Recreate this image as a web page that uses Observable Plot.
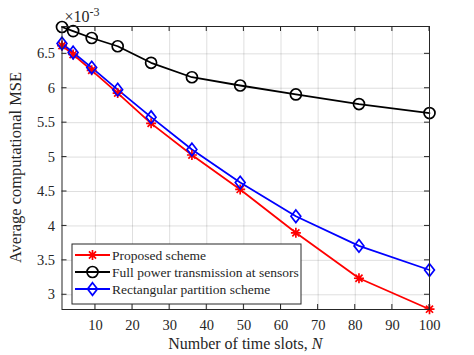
<!DOCTYPE html>
<html><head><meta charset="utf-8">
<script src="https://cdn.jsdelivr.net/npm/d3@7"></script>
<script src="https://cdn.jsdelivr.net/npm/@observablehq/plot@0.6"></script>
<style>body{margin:0;background:#fff} #chart{width:474px;height:355px}</style>
</head><body><div id="chart"></div>
<script>
// ---- data ----
const slots = [1, 4, 9, 16, 25, 36, 49, 64, 81, 100];
const proposed = [6.62, 6.49, 6.26, 5.93, 5.49, 5.03, 4.53, 3.90, 3.24, 2.79];
const fullPower = [6.89, 6.83, 6.73, 6.61, 6.37, 6.16, 6.04, 5.91, 5.77, 5.64];
const rectangular = [6.65, 6.52, 6.30, 5.98, 5.58, 5.11, 4.63, 4.14, 3.71, 3.36];
const seriesNames = ["Proposed scheme", "Full power transmission at sensors", "Rectangular partition scheme"];
const seriesColors = ["#ff0000", "#000000", "#0000ff"];
const xTicks = [10, 20, 30, 40, 50, 60, 70, 80, 90, 100];
const yTicks = [3, 3.5, 4, 4.5, 5, 5.5, 6, 6.5];
const xLabel = "Number of time slots, ";
const xLabelVar = "N";
const yLabel = "Average computational MSE";
const exponentBase = "×10";
const exponent = "-3";

const valueSets = [proposed, fullPower, rectangular];
const rows = [];
valueSets.forEach((vals, i) => vals.forEach((v, j) => rows.push({series: seriesNames[i], N: slots[j], mse: v})));

// custom marker symbols
const star = {draw(c, size) { const r = Math.sqrt(size / Math.PI); const d = r * Math.SQRT1_2;
  c.moveTo(-r, 0); c.lineTo(r, 0); c.moveTo(0, -r); c.lineTo(0, r);
  c.moveTo(-d, -d); c.lineTo(d, d); c.moveTo(-d, d); c.lineTo(d, -d); }};
const ring = {draw(c, size) { const r = Math.sqrt(size / Math.PI); c.moveTo(r, 0); c.arc(0, 0, r, 0, 2 * Math.PI); c.closePath(); }};
const rhomb = {draw(c, size) { const r = Math.sqrt(size / Math.PI); const w = r * 0.78;
  c.moveTo(0, -r); c.lineTo(w, 0); c.lineTo(0, r); c.lineTo(-w, 0); c.closePath(); }};
const symbols = [star, ring, rhomb];
const symbolR = [5, 5.5, 6.3];

const font = "'Liberation Serif', 'Times New Roman', serif";
const axisColor = "#262626";

const plot = Plot.plot({
  width: 474, height: 355,
  marginLeft: 61.5, marginRight: 45, marginTop: 26, marginBottom: 46,
  style: {fontFamily: font, fontSize: "14px", color: axisColor, background: "#fff"},
  x: {domain: [1, 100], label: null},
  y: {domain: [2.786, 6.897], label: null},
  color: {domain: seriesNames, range: seriesColors},
  marks: [
    Plot.gridX(xTicks, {stroke: axisColor, strokeOpacity: 0.15, strokeWidth: 1}),
    Plot.gridY(yTicks, {stroke: axisColor, strokeOpacity: 0.15, strokeWidth: 1}),
    Plot.axisX(xTicks, {tickSize: 0, tickPadding: 10, fontSize: 14.5, label: null}),
    Plot.axisY(yTicks, {tickSize: 0, tickPadding: 7, fontSize: 14.5, label: null, tickFormat: d => String(d)}),
    Plot.line(rows, {x: "N", y: "mse", z: "series", stroke: "series", strokeWidth: 1.8}),
    ...seriesNames.map((s, i) => Plot.dot(rows.filter(d => d.series === s),
      {x: "N", y: "mse", stroke: seriesColors[i], fill: "none", strokeWidth: 1.7, symbol: symbols[i], r: symbolR[i]})),
    Plot.frame({stroke: axisColor, strokeWidth: 1})
  ]
});
document.getElementById("chart").appendChild(plot);

// ---- inward ticks, labels, exponent and legend ----
const svg = d3.select(plot);
const sx = plot.scale("x"), sy = plot.scale("y");
const [x0, x1] = sx.range, [yb, yt] = sy.range;
const tl = 5;
const tg = svg.append("g").attr("stroke", axisColor).attr("stroke-width", 1);
xTicks.forEach(t => { const x = sx.apply(t);
  tg.append("line").attr("x1", x).attr("x2", x).attr("y1", yb).attr("y2", yb - tl);
  tg.append("line").attr("x1", x).attr("x2", x).attr("y1", yt).attr("y2", yt + tl); });
yTicks.forEach(t => { const y = sy.apply(t);
  tg.append("line").attr("x1", x0).attr("x2", x0 + tl).attr("y1", y).attr("y2", y);
  tg.append("line").attr("x1", x1).attr("x2", x1 - tl).attr("y1", y).attr("y2", y); });

const xl = svg.append("text").attr("x", (x0 + x1) / 2).attr("y", 349).attr("text-anchor", "middle")
  .style("font-size", "16px").attr("fill", axisColor);
xl.append("tspan").text(xLabel);
xl.append("tspan").style("font-style", "italic").text(xLabelVar);

svg.append("text").attr("transform", `translate(21,${(yb + yt) / 2}) rotate(-90)`).attr("text-anchor", "middle")
  .style("font-size", "16.5px").attr("fill", axisColor).text(yLabel);

const ex = svg.append("text").attr("x", x0 + 3).attr("y", 22).attr("text-anchor", "start")
  .style("font-size", "16px").attr("fill", axisColor);
ex.append("tspan").text(exponentBase);
ex.append("tspan").style("font-size", "12px").attr("dy", -6).text(exponent);

const lg = svg.append("g").attr("fill", axisColor).attr("text-anchor", "start");
lg.append("rect").attr("x", 72).attr("y", 244).attr("width", 229).attr("height", 60)
  .attr("fill", "#fff").attr("stroke", axisColor).attr("stroke-width", 1);
seriesNames.forEach((s, i) => {
  const y = 255 + i * 17;
  lg.append("line").attr("x1", 75).attr("x2", 110).attr("y1", y).attr("y2", y).attr("stroke", seriesColors[i]).attr("stroke-width", 1.8);
  lg.append("path").attr("transform", `translate(92.5,${y})`)
    .attr("d", d3.symbol(symbols[i], symbolR[i] * symbolR[i] * Math.PI)())
    .attr("stroke", seriesColors[i]).attr("fill", "none").attr("stroke-width", 1.7);
  lg.append("text").attr("x", 112).attr("y", y).attr("dy", "0.35em").attr("text-anchor", "start")
    .style("font-size", "13.5px").text(s);
});
// force the serif face on every text of the figure
svg.selectAll("text").style("font-family", font);
</script>
</body></html>
